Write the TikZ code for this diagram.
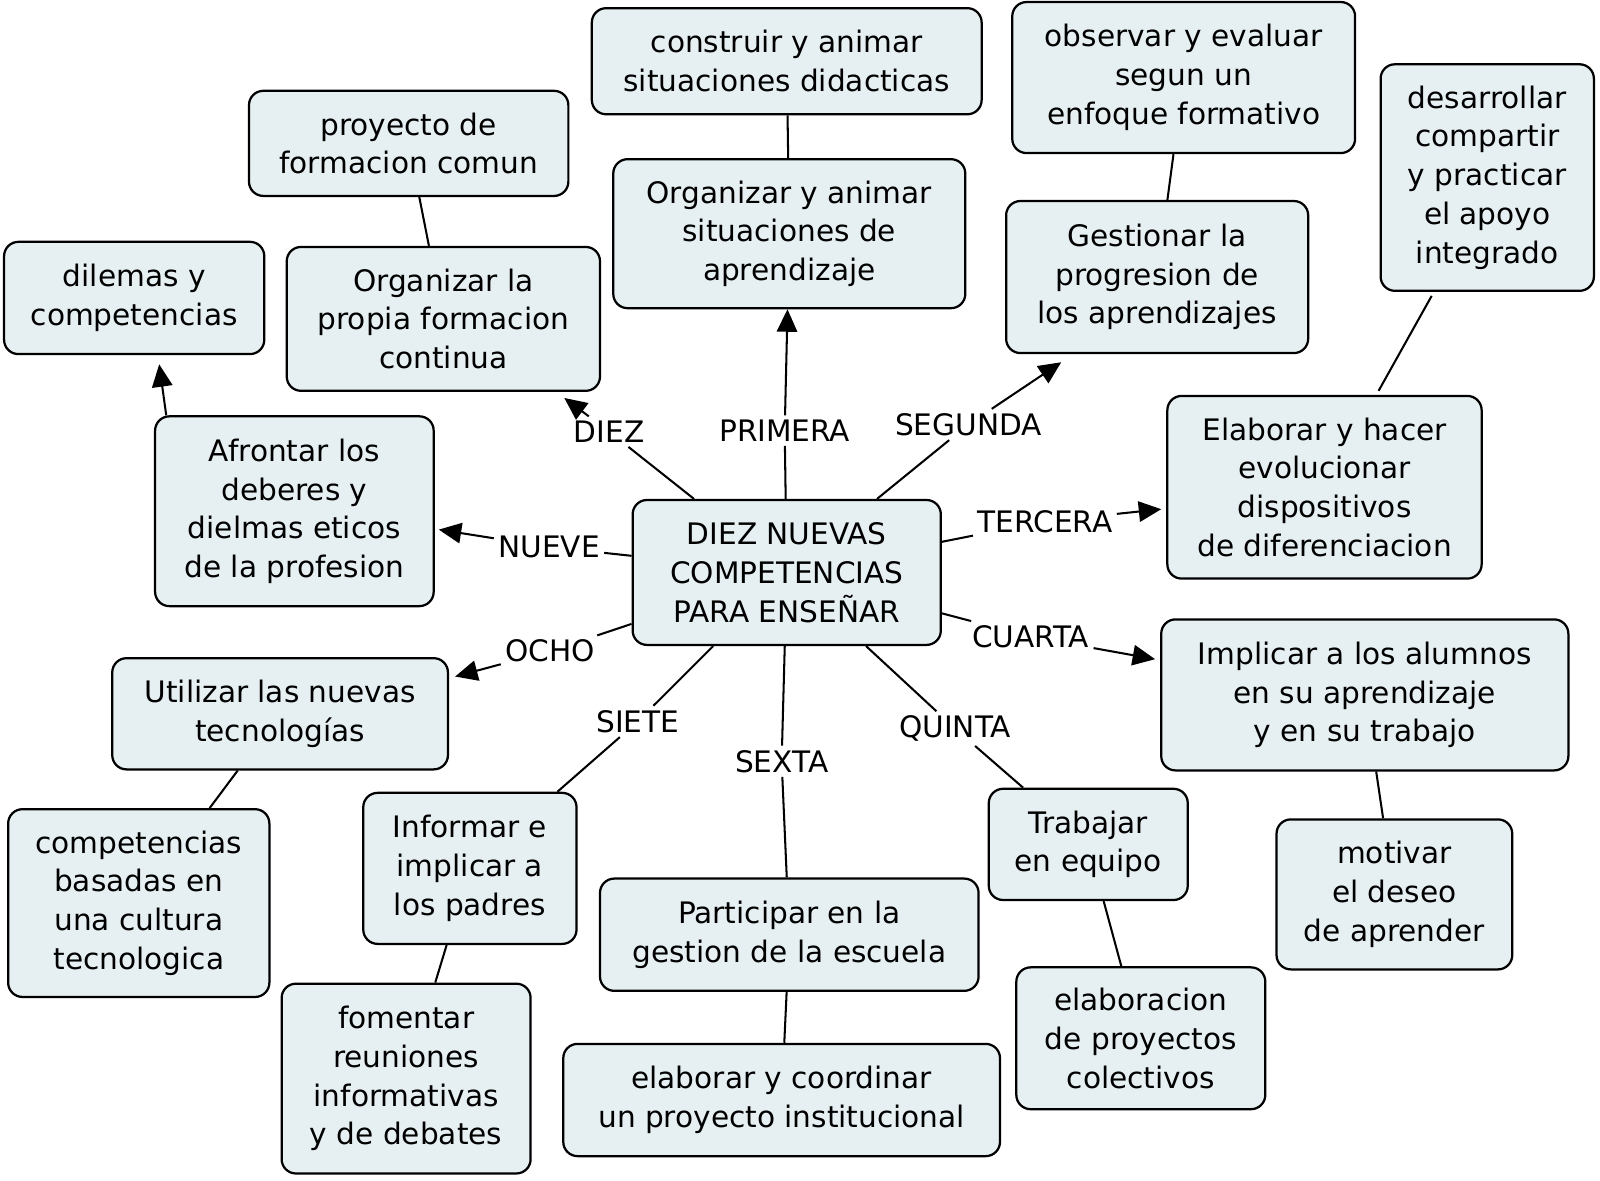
\documentclass[tikz,border=0pt]{standalone}
\usepackage{fontspec}
\setmainfont{DejaVu Sans}
\usetikzlibrary{arrows.meta}
\definecolor{boxfill}{HTML}{E6F0F2}
\tikzset{
  box/.style={draw=black, line width=1.1pt, fill=boxfill, rounded corners=7pt, align=center, inner sep=2pt,
    font=\fontsize{14.5}{19}\selectfont},
  lab/.style={fill=white, inner sep=2pt, font=\fontsize{14.5}{17}\selectfont},
  con/.style={line width=1pt},
  arr/.style={line width=1pt, -{Triangle[length=11pt,width=10pt]}}
}
\newcommand\bx[6]{\node[box, minimum width={(#4-#2)*0.5pt}, minimum height={(#5-#3)*0.5pt}] (#1) at ({(#2+#4)/2},{(#3+#5)/2}) {#6};}
\begin{document}
\begin{tikzpicture}[x=0.5pt,y=-0.5pt]
\useasboundingbox[fill=white] (0,0) rectangle (1568,1157);
\bx{c}{620}{490}{922}{632}{DIEZ NUEVAS\\COMPETENCIAS\\PARA ENSEÑAR}
\bx{cons}{580}{8}{962}{112}{construir y animar\\situaciones didacticas}
\bx{org}{601}{156}{946}{302}{Organizar y animar\\situaciones de\\aprendizaje}
\bx{obs}{992}{2}{1328}{150}{observar y evaluar\\segun un\\enfoque formativo}
\bx{ges}{986}{197}{1282}{346}{Gestionar la\\progresion de\\los aprendizajes}
\bx{des}{1353}{63}{1562}{285}{desarrollar\\compartir\\y practicar\\el apoyo\\integrado}
\bx{ela}{1144}{388}{1452}{567}{Elaborar y hacer\\evolucionar\\dispositivos\\de diferenciacion}
\bx{imp}{1138}{607}{1537}{755}{Implicar a los alumnos\\en su aprendizaje\\y en su trabajo}
\bx{mot}{1251}{803}{1482}{950}{motivar\\el deseo\\de aprender}
\bx{tra}{969}{773}{1164}{882}{Trabajar\\en equipo}
\bx{epc}{996}{948}{1240}{1087}{elaboracion\\de proyectos\\colectivos}
\bx{par}{588}{861}{959}{971}{Participar en la\\gestion de la escuela}
\bx{eyc}{552}{1023}{980}{1133}{elaborar y coordinar\\un proyecto institucional}
\bx{inf}{356}{777}{565}{925}{Informar e\\implicar a\\los padres}
\bx{fom}{276}{964}{520}{1150}{fomentar\\reuniones\\informativas\\y de debates}
\bx{uti}{110}{645}{439}{754}{Utilizar las nuevas\\tecnologías}
\bx{cbc}{8}{793}{264}{977}{competencias\\basadas en\\una cultura\\tecnologica}
\bx{afr}{152}{408}{425}{594}{Afrontar los\\deberes y\\dielmas eticos\\de la profesion}
\bx{dil}{4}{237}{259}{347}{dilemas y\\competencias}
\bx{opf}{281}{242}{588}{383}{Organizar la\\propia formacion\\continua}
\bx{pfc}{244}{89}{557}{192}{proyecto de\\formacion comun}
% labels
\node[lab] (l10) at (597,423) {DIEZ};
\node[lab] (l1) at (769,422) {PRIMERA};
\node[lab] (l2) at (949,416) {SEGUNDA};
\node[lab] (l3) at (1024,511) {TERCERA};
\node[lab] (l4) at (1010,624) {CUARTA};
\node[lab] (l5) at (936,714) {QUINTA};
\node[lab] (l6) at (766,746) {SEXTA};
\node[lab] (l7) at (625,707) {SIETE};
\node[lab] (l8) at (539,638) {OCHO};
\node[lab] (l9) at (538,536) {NUEVE};
\coordinate (t10) at (553,390);
\coordinate (t2) at (1040,355);
\coordinate (t3) at (1138,499);
\coordinate (t4) at (1132,646);
\coordinate (t8) at (446,663);
\coordinate (t9) at (430,519);
\coordinate (td) at (156,357);
% connectors
\draw[con] (c) -- (l10); \draw[arr] (l10) -- (t10);
\draw[con] (c) -- (l1); \draw[arr] (l1) -- (org);
\draw[con] (c) -- (l2); \draw[arr] (l2) -- (t2);
\draw[con] (c) -- (l3); \draw[arr] (l3) -- (t3);
\draw[con] (c) -- (l4); \draw[arr] (l4) -- (t4);
\draw[con] (c) -- (l5); \draw[con] (l5) -- (tra);
\draw[con] (c) -- (l6); \draw[con] (l6) -- (par);
\draw[con] (c) -- (l7); \draw[con] (l7) -- (inf);
\draw[con] (c) -- (l8); \draw[arr] (l8) -- (t8);
\draw[con] (c) -- (l9); \draw[arr] (l9) -- (t9);
\draw[arr] (afr.north west) ++(12,0) coordinate (a0) (a0) -- (td);
\draw[con] (cons) -- (org);
\draw[con] (obs) -- (ges);
\draw[con] (1403,290) -- (1351,383);
\draw[con] (imp) -- (mot);
\draw[con] (tra) -- (epc);
\draw[con] (par) -- (eyc);
\draw[con] (inf) -- (fom);
\draw[con] (uti) -- (cbc);
\draw[con] (pfc) -- (opf);
\end{tikzpicture}
\end{document}
